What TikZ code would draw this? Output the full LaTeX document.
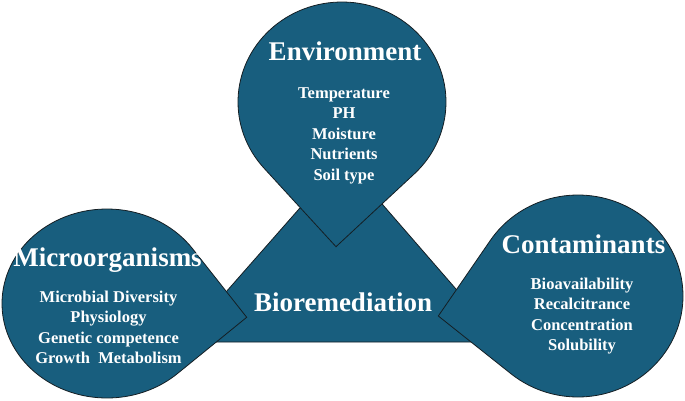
\documentclass[tikz,border=0pt]{standalone}
\usepackage{fontspec}
\setmainfont{Liberation Serif}
\definecolor{tealfill}{RGB}{24,94,126}
\definecolor{edgecol}{RGB}{20,30,35}
% teardrop: center x, center y, x radius, y radius, tip x, tip y
\newcommand\teardropshape[6]{%
  \pgfmathsetmacro\tdux{(#5-#1)/#3}%
  \pgfmathsetmacro\tduy{(#6-#2)/#4}%
  \pgfmathsetmacro\tdphi{atan2(\tduy,\tdux)}%
  \pgfmathsetmacro\tdd{sqrt(\tdux*\tdux+\tduy*\tduy)}%
  \pgfmathsetmacro\tdbeta{acos(1/\tdd)}%
  \pgfmathsetmacro\tdsa{\tdphi+\tdbeta}%
  \pgfmathsetmacro\tdea{\tdphi+360-\tdbeta}%
  \draw[shapestyle] (#5,#6) -- ({#1+#3*cos(\tdsa)},{#2+#4*sin(\tdsa)})
    arc[start angle=\tdsa, end angle=\tdea, x radius=#3pt, y radius=#4pt] -- cycle;
}
\begin{document}
\begin{tikzpicture}[x=1pt,y=1pt,
  shapestyle/.style={fill=tealfill,draw=edgecol,line width=0.8pt,line join=miter},
  titletext/.style={text=white,inner sep=0pt,anchor=base,font=\bfseries\fontsize{27}{30}\selectfont},
  itemtext/.style={text=white,inner sep=0pt,anchor=base,font=\bfseries\fontsize{16.5}{19}\selectfont}]
\useasboundingbox (0,0) rectangle (685,400);
% central triangle
\coordinate (tl) at (182,58);
\coordinate (tr) at (502,58);
\coordinate (tt) at (343,241);
\draw[shapestyle] (tl) -- (tr) -- (tt) -- cycle;
% teardrops
\teardropshape{107}{96.5}{105}{94.5}{246.7}{82.7}
\teardropshape{578}{104}{105}{101}{438.3}{84}
\teardropshape{342}{298}{104}{100}{336}{153.3}
% texts
\node[titletext] (bio) at (343,89) {Bioremediation};
\node[titletext] (env) at (345,340) {Environment};
\foreach \t/\yy [count=\i] in {Temperature/302,PH/281.5,Moisture/261,Nutrients/240.5,Soil type/220}
  \node[itemtext] (env\i) at (344,\yy) {\t};
\node[titletext] (mic) at (107.5,134) {Microorganisms};
\foreach \t/\yy [count=\i] in {Microbial Diversity/98,Physiology/77.5,Genetic competence/57,Growth\hspace{0.5em}Metabolism/37}
  \node[itemtext] (mic\i) at (108.5,\yy) {\t};
\node[titletext] (con) at (583.5,147) {Contaminants};
\foreach \t/\yy [count=\i] in {Bioavailability/111,Recalcitrance/90.5,Concentration/70,Solubility/50}
  \node[itemtext] (con\i) at (582,\yy) {\t};
\end{tikzpicture}
\end{document}
